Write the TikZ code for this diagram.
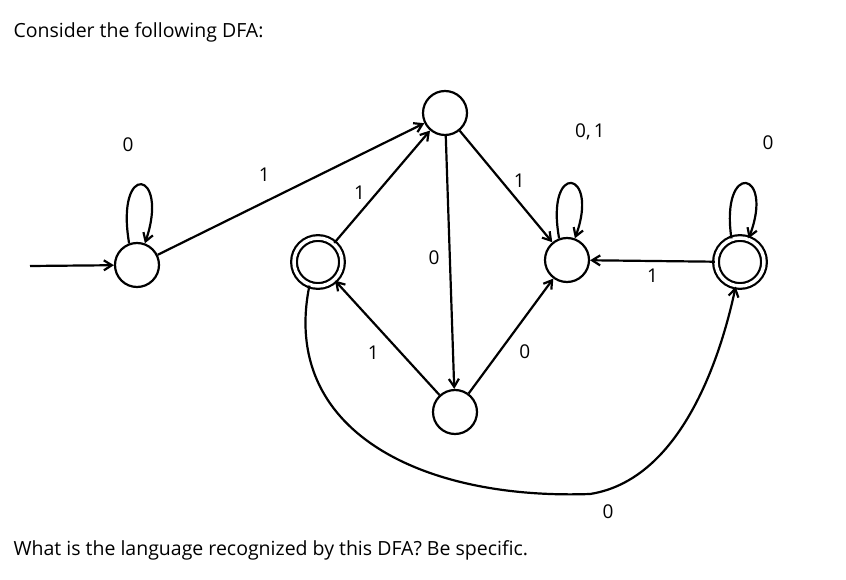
\documentclass[tikz,border=0pt]{standalone}
\usepackage{fontspec}
\setmainfont{Open Sans}
\usetikzlibrary{arrows.meta}
\begin{document}
\begin{tikzpicture}[x=1pt,y=-1pt,
  st/.style={circle,draw,line width=2.2pt,minimum size=44pt,inner sep=0pt},
  acc/.style={st,double,double distance=3.5pt,minimum size=48pt},
  ed/.style={draw,line width=2.2pt,-{Straight Barb[length=8pt,width=10pt]}},
  lab/.style={font=\fontsize{19}{19}\selectfont}]
\useasboundingbox (0,0) rectangle (846,580);
\node[anchor=west,font=\fontsize{19.5}{21}\selectfont] (t1) at (10,32) {Consider the following DFA:};
\node[anchor=west,font=\fontsize{19.5}{21}\selectfont] (t2) at (10,550) {What is the language recognized by this DFA? Be specific.};
\node[st] (q0) at (137,265) {};
\node[st] (q1) at (445,113) {};
\node[acc] (q2) at (318,262) {};
\node[st] (q3) at (455,412) {};
\node[st] (q4) at (567,260) {};
\node[acc] (q5) at (740,262) {};
\coordinate (s) at (30,266);
\draw[ed] (s) -- (q0);
\draw[ed] (q0.110) .. controls (115,160) and (170,170) .. (q0.70);
\node[lab] (l0) at (128,145) {0};
\draw[ed] (q0) -- (q1) node[lab,pos=0.4,above=16pt] (l1) {1};
\draw[ed] (q2) -- (q1) node[lab,pos=0.45,left=8pt] (l2) {1};
\draw[ed] (q1) -- (q3) node[lab,pos=0.48,left=6pt] (l3) {0};
\draw[ed] (q1) -- (q4) node[lab,pos=0.45,right=8pt] (l4) {1};
\draw[ed] (q4.110) .. controls (545,160) and (600,170) .. (q4.70);
\node[lab] (l5) at (590,132) {0,\,1};
\draw[ed] (q5) -- (q4) node[lab,midway,below=4pt] (l6) {1};
\draw[ed] (q5.110) .. controls (720,160) and (775,170) .. (q5.70);
\node[lab] (l7) at (768,143) {0};
\draw[ed] (q3) -- (q2) node[lab,midway,below left=4pt] (l8) {1};
\draw[ed] (q3) -- (q4) node[lab,midway,below right=4pt] (l9) {0};
\draw[ed] (q2.250) .. controls (280,430) and (420,500) .. (590,494) .. controls (680,480) and (720,360) .. (q5.260);
\node[lab] (l10) at (608,512) {0};
\end{tikzpicture}
\end{document}
